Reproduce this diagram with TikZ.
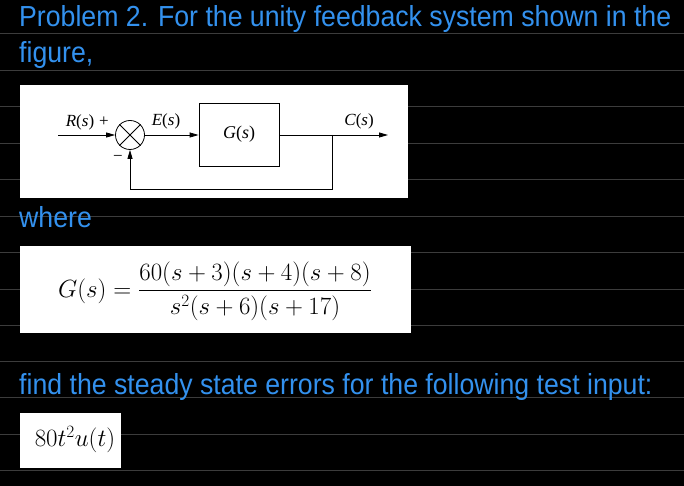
\documentclass[tikz,border=0pt]{standalone}
\usepackage{fontspec}
\setmainfont[FakeStretch=0.92]{Liberation Sans}
\newfontfamily\dserif{Liberation Serif}
\usepackage{amsmath}
\usetikzlibrary{arrows.meta}
\definecolor{qblue}{HTML}{3391EE}
\definecolor{rule}{HTML}{3C3C3C}
\tikzset{
  qtext/.style={text=qblue,anchor=west,inner sep=0,font=\fontsize{29}{31}\selectfont},
  wbox/.style={fill=white,draw=none},
  blk/.style={draw,line width=0.8pt,minimum width=80pt,minimum height=63pt},
  sig/.style={line width=0.8pt,-{Triangle[length=9pt,width=5pt]}},
  lab/.style={font=\fontsize{17}{18}\selectfont\dserif,inner sep=0},
}
\begin{document}
\begin{tikzpicture}[x=1pt,y=-1pt]
\fill[black] (0,0) rectangle (684,486);
\useasboundingbox (0,0) rectangle (684,486);
\foreach \y in {34,71,107,144,180,216,252,289,325,361,397,434,470}
  \draw[rule,line width=1pt] (0,\y) -- (684,\y);
\node[qtext] (t1) at (19,19) {Problem 2. For the unity feedback system shown in the};
\node[qtext] (t2) at (19,55) {figure,};
\fill[wbox] (20,85) rectangle (408,198);
% block diagram
\node[draw,circle,line width=0.8pt,minimum size=29pt,inner sep=0] (sum) at (130,135) {};
\draw[line width=0.8pt] (sum.north west) -- (sum.south east) (sum.north east) -- (sum.south west);
\node[blk] (G) at (239,134.5) {\fontsize{18}{19}\selectfont\dserif\textit{G}(\textit{s})};
\coordinate (in) at (58,135);
\coordinate (br) at (332,135);
\coordinate (out) at (388,135);
\coordinate (fb) at (332,189);
\coordinate (fb2) at (130,189);
\draw[sig] (in) -- (sum);
\draw[sig] (sum) -- (G.west|-sum);
\draw[sig] (G.east|-br) -- (out);
\draw[sig] (br) -- (fb) -- (fb2) -- (sum);
\node[lab] (R) at (80,122) {\textit{R}(\textit{s})};
\node[lab] (p) at (104,122) {+};
\node[lab] (E) at (166,121) {\textit{E}(\textit{s})};
\node[lab] (C) at (359,121) {\textit{C}(\textit{s})};
\node[lab] (m) at (118,158) {\textminus};
\node[qtext] (t3) at (19,217) {where};
\fill[wbox] (20,246) rectangle (411,333);
\node[inner sep=0,font=\fontsize{25.5}{27}\selectfont] (eq) at (215,291)
  {$G(s)=\dfrac{60(s+3)(s+4)(s+8)}{s^2(s+6)(s+17)}$};
\node[qtext] (t4) at (19,387) {find the steady state errors for the following test input:};
\fill[wbox] (20,413) rectangle (121,468);
\node[inner sep=0,font=\fontsize{27}{29}\selectfont] (u) at (75,440) {$80t^2u(t)$};
\end{tikzpicture}
\end{document}
